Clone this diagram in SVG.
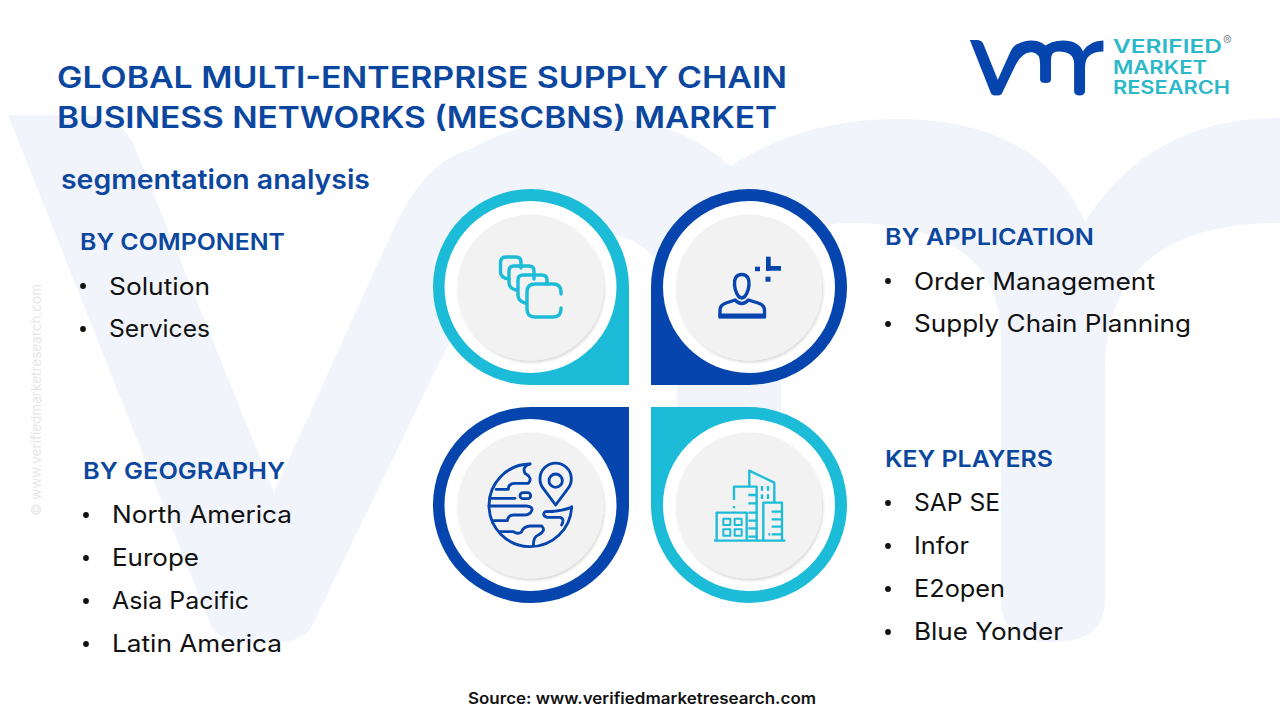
<svg xmlns="http://www.w3.org/2000/svg" width="1280" height="720" viewBox="0 0 1280 720">
<style>
text{font-family:"Inter","Open Sans","Liberation Sans",sans-serif}
.title{font-size:30px;font-weight:600;fill:#0b469f}
.sub{font-size:27px;font-weight:600;fill:#0b469f}
.head{font-size:23.5px;font-weight:600;fill:#0b469f}
.item{font-size:24px;font-weight:400;fill:#111}
.src{font-size:15.5px;font-weight:600;fill:#111}
.logo{font-size:18px;font-weight:600;fill:#2bb8c9}
.ico{fill:none;stroke-linejoin:round}
.t{stroke:#1cbcd8}
.b{stroke:#0645ad}
.dot{fill:#111}
</style>
<defs>
<g id="vmr">
<path d="M8 115H85Q120 118 133 143L274 492L392 232Q425 160 469 150Q520 120 590 118Q700 115 760 200Q781 240 781 300V490Q781 524 729 524Q677 524 677 490V340Q677 240 600 232Q510 225 445 351L310 630Q298 644 260 644Q225 644 212 628Z"/>
<path d="M700 190Q780 119 897 119Q1040 119 1085 222Q1105 270 1105 340V600Q1105 642 1053 642Q1001 642 1001 600V340Q1001 223 848 223Q781 223 781 300Z"/>
<path d="M1085 222Q1150 118 1280 118V223Q1105 223 1105 371Z"/>
</g>
<filter id="sh" x="-20%" y="-20%" width="140%" height="140%"><feDropShadow dx="1" dy="2" stdDeviation="1.600" flood-color="#000" flood-opacity=".16"/></filter>
</defs>
<rect width="1280" height="720" fill="#fff"/>
<use href="#vmr" fill="#f1f4fa"/>
<text transform="translate(41,516) rotate(-90)" font-size="13" fill="#e6e6e6" textLength="232" lengthAdjust="spacingAndGlyphs">© www.verifiedmarketresearch.com</text>

<g id="logo">
<use href="#vmr" fill="#0645ad" transform="translate(969,28) scale(.105)"/>
<text class="logo" x="1113" y="53" textLength="109" lengthAdjust="spacingAndGlyphs">VERIFIED</text>
<text class="logo" x="1113" y="74" textLength="94" lengthAdjust="spacingAndGlyphs">MARKET</text>
<text class="logo" x="1113" y="94" textLength="117" lengthAdjust="spacingAndGlyphs">RESEARCH</text>
<text x="1223" y="45" font-size="13" fill="#8a8f98">®</text>
</g>

<g id="heading">
<text class="title" x="57" y="88" textLength="730" lengthAdjust="spacingAndGlyphs">GLOBAL MULTI-ENTERPRISE SUPPLY CHAIN</text>
<text class="title" x="57" y="127.500" textLength="720" lengthAdjust="spacingAndGlyphs">BUSINESS NETWORKS (MESCBNS) MARKET</text>
<text class="sub" x="61" y="189" textLength="309" lengthAdjust="spacingAndGlyphs">segmentation analysis</text>
</g>

<g id="node-component">
<path d="M629 385H530.500A98 98 0 1 1 629 287Z" fill="#1cbcd8"/>
<circle cx="530.500" cy="287" r="86" fill="#fff"/>
<circle cx="530.500" cy="287.500" r="73" fill="#f2f2f2" filter="url(#sh)"/>
<g class="ico t" stroke-width="3.400" stroke-linecap="round">
<path d="M561 294V292Q561 284 553 284H535Q527 284 527 292V309Q527 317 535 317H553Q561 317 561 309V308"/>
<path d="M521 268V262Q521 257 516 257H506Q500.500 257 500.500 263V272Q500.500 278 509 279"/>
<path d="M534 279V271Q534 266 529 266H514Q509 266 509 271V283Q509 288 516 290"/>
<path d="M547 284V280Q547 275 542 275H523Q518 275 518 280V295Q518 301 525 303"/>
</g>
<text class="head" x="80" y="250" textLength="205" lengthAdjust="spacingAndGlyphs">BY COMPONENT</text>
<circle class="dot" cx="83" cy="286" r="2.900"/><text class="item" x="109" y="295" textLength="101" lengthAdjust="spacingAndGlyphs">Solution</text>
<circle class="dot" cx="83" cy="329" r="2.900"/><text class="item" x="109" y="337" textLength="101" lengthAdjust="spacingAndGlyphs">Services</text>
</g>

<g id="node-application">
<path d="M651 385H749A98 98 0 1 0 651 287Z" fill="#0645ad"/>
<circle cx="749" cy="287" r="86" fill="#fff"/>
<circle cx="749" cy="287.500" r="73" fill="#f2f2f2" filter="url(#sh)"/>
<g class="ico b" stroke-width="3.400">
<path d="M741.700 274.500C736 274.500 734 279 734.500 285C735 291 738 298 741.700 298C745.500 298 748.500 291 749 285C749.500 279 747.500 274.500 741.700 274.500Z"/>
<path d="M720 316.500V310Q720 305 726 303L735 300Q741.700 307 748.500 300L758 303Q764.500 305 764.500 310V316.500Z"/>
</g>
<g fill="#0645ad">
<rect x="718.500" y="313.500" width="47.500" height="5"/>
<rect x="766" y="256.700" width="4.700" height="14"/><rect x="766" y="266" width="15" height="4.700"/>
<rect x="755" y="266.700" width="5" height="4.500"/><rect x="765.500" y="276.700" width="5" height="5"/>
</g>
<text class="head" x="885" y="245" textLength="209" lengthAdjust="spacingAndGlyphs">BY APPLICATION</text>
<circle class="dot" cx="888" cy="281" r="2.900"/><text class="item" x="914" y="290" textLength="241" lengthAdjust="spacingAndGlyphs">Order Management</text>
<circle class="dot" cx="888" cy="324" r="2.900"/><text class="item" x="914" y="332" textLength="277" lengthAdjust="spacingAndGlyphs">Supply Chain Planning</text>
</g>

<g id="node-geography">
<path d="M629 407H530.500A98 98 0 1 0 629 505Z" fill="#0645ad"/>
<circle cx="530.500" cy="505" r="86" fill="#fff"/>
<circle cx="530.500" cy="505.500" r="73" fill="#f2f2f2" filter="url(#sh)"/>
<g class="ico b" stroke-width="8.500" transform="translate(420,400) scale(.3333)" stroke-linecap="round">
<path d="M330 192A124 124 0 1 0 455 320"/>
<path d="M330 192Q305 200 315 220Q340 235 325 250H285Q265 250 265 268H228"/>
<rect x="300" y="278" width="32" height="18" rx="9"/>
<path d="M212 295H285"/>
<path d="M207 318H320Q340 320 335 332Q330 345 310 345H280Q265 345 262 362H222"/>
<path d="M240 395H280Q295 405 305 395Q310 380 330 378H365Q380 392 355 405Q340 410 340 437"/>
<path d="M455 322Q420 335 375 335Q365 345 380 352H420Q435 355 425 375"/>
<path d="M407 315L372 268A47 47 0 1 1 442 268Z"/>
<circle cx="407" cy="242" r="20"/>
</g>
<text class="head" x="83" y="479" textLength="202" lengthAdjust="spacingAndGlyphs">BY GEOGRAPHY</text>
<circle class="dot" cx="86" cy="515" r="2.900"/><text class="item" x="112" y="523" textLength="180" lengthAdjust="spacingAndGlyphs">North America</text>
<circle class="dot" cx="86" cy="558" r="2.900"/><text class="item" x="112" y="566" textLength="87" lengthAdjust="spacingAndGlyphs">Europe</text>
<circle class="dot" cx="86" cy="601" r="2.900"/><text class="item" x="112" y="609" textLength="137" lengthAdjust="spacingAndGlyphs">Asia Pacific</text>
<circle class="dot" cx="86" cy="644" r="2.900"/><text class="item" x="112" y="652" textLength="170" lengthAdjust="spacingAndGlyphs">Latin America</text>
</g>

<g id="node-players">
<path d="M651 407H749A98 98 0 1 1 651 505Z" fill="#1cbcd8"/>
<circle cx="749" cy="505" r="86" fill="#fff"/>
<circle cx="749" cy="505.500" r="73" fill="#f2f2f2" filter="url(#sh)"/>
<g class="ico t" stroke-width="7" transform="translate(640,400) scale(.3333)">
<path d="M222 422H436"/>
<path d="M230 422V338H320V422"/>
<path d="M250 356H271V375H250ZM284 356H305V375H284ZM250 388H271V407H250ZM284 388H305V407H284Z" stroke-width="6"/>
<path d="M282 300V260H350V422"/>
<path d="M282 318V325"/>
<path d="M325 285H350M325 310H350M325 338H350M325 362H350M325 385H350M325 410H350"/>
<path d="M328 260V212L403 248V306"/>
<path d="M366 258V272M384 258V272M366 283V297M384 283V297"/>
<path d="M370 422V308H426V422"/>
<path d="M395 335H426M395 358H426M395 380H426M395 403H426M385 403H391"/>
</g>
<text class="head" x="885" y="467" textLength="168" lengthAdjust="spacingAndGlyphs">KEY PLAYERS</text>
<circle class="dot" cx="888" cy="503" r="2.900"/><text class="item" x="914" y="511" textLength="86" lengthAdjust="spacingAndGlyphs">SAP SE</text>
<circle class="dot" cx="888" cy="546" r="2.900"/><text class="item" x="914" y="554" textLength="55" lengthAdjust="spacingAndGlyphs">Infor</text>
<circle class="dot" cx="888" cy="589" r="2.900"/><text class="item" x="914" y="597" textLength="91" lengthAdjust="spacingAndGlyphs">E2open</text>
<circle class="dot" cx="888" cy="632" r="2.900"/><text class="item" x="914" y="640" textLength="149" lengthAdjust="spacingAndGlyphs">Blue Yonder</text>
</g>

<text class="src" x="468" y="704" textLength="348" lengthAdjust="spacingAndGlyphs">Source: www.verifiedmarketresearch.com</text>
</svg>
